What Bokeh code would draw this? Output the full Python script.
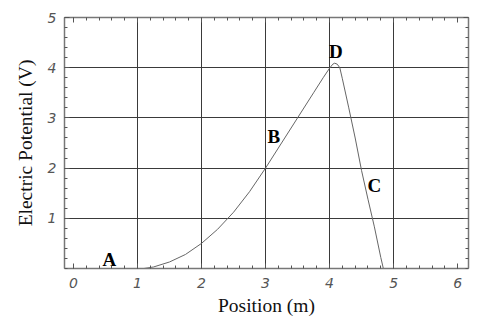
from bokeh.plotting import figure
from bokeh.models import (Range1d, FixedTicker, LinearAxis, CustomJSTickFormatter,
                          ColumnDataSource)
from bokeh.core.properties import value
from bokeh.embed import file_html
from bokeh.resources import INLINE

# ---- data ----
position = [1.0, 1.1, 1.25, 1.5, 1.75, 2.0, 2.25, 2.5, 2.75, 3.0, 3.25, 3.5, 3.75,
            3.9, 4.0, 4.05, 4.08, 4.12, 4.16, 4.2, 4.3, 4.4, 4.5, 4.6, 4.7, 4.8, 4.84]
potential = [0.0, 0.0, 0.03, 0.13, 0.28, 0.5, 0.78, 1.12, 1.53, 2.0, 2.5, 3.0, 3.5,
             3.8, 3.99, 4.07, 4.09, 4.07, 4.0, 3.78, 3.2, 2.6, 1.95, 1.38, 0.83, 0.22, 0.0]

point_labels = ["A", "B", "D", "C"]
label_x = [0.56, 3.13, 4.1, 4.7]
label_y = [0.18, 2.62, 4.32, 1.66]

x_ticks = [0, 1, 2, 3, 4, 5, 6]
y_ticks = [1, 2, 3, 4, 5]
x_grid = [1, 2, 3, 4, 5]
y_grid = [1, 2, 3, 4]
x_minor = [round(-0.0 + 0.2 * i, 2) for i in range(0, 31)]
y_minor = [round(0.2 * i, 2) for i in range(0, 26)]

# ---- figure ----
p = figure(width=487, height=327, output_backend="svg", toolbar_location=None,
           x_range=Range1d(-0.14, 6.17), y_range=Range1d(0, 5),
           min_border_left=64, min_border_right=19, min_border_top=17,
           min_border_bottom=59)
p.background_fill_color = "white"
p.border_fill_color = "white"
p.outline_line_color = None

axis_col = "#777777"

def style_axis(ax, ticks, minor):
    ax.ticker = FixedTicker(ticks=ticks, minor_ticks=minor)
    ax.axis_line_color = axis_col
    ax.axis_line_width = 1.5
    ax.major_tick_in = 5
    ax.major_tick_out = 0
    ax.minor_tick_in = 3
    ax.minor_tick_out = 0
    ax.major_tick_line_color = "#555555"
    ax.minor_tick_line_color = "#555555"
    ax.major_label_text_font = "DejaVu Sans"
    ax.major_label_text_font_style = "italic"
    ax.major_label_text_font_size = "14px"
    ax.major_label_text_color = "#555555"

style_axis(p.xaxis[0], x_ticks, x_minor)
style_axis(p.yaxis[0], y_ticks, y_minor)
p.xaxis.major_label_standoff = 9
p.yaxis.major_label_standoff = 8

p.xaxis.axis_label = "Position (m)"
p.yaxis.axis_label = "Electric Potential (V)"
for ax in (p.xaxis[0], p.yaxis[0]):
    ax.axis_label_text_font = "Liberation Serif"
    ax.axis_label_text_font_style = "normal"
    ax.axis_label_text_font_size = "19.5px"
    ax.axis_label_text_color = "#111111"
p.xaxis.axis_label_standoff = 4
p.yaxis.axis_label_standoff = 9

blank = CustomJSTickFormatter(code="return ''")
top = LinearAxis(formatter=blank)
right = LinearAxis(formatter=blank)
style_axis(top, x_ticks, x_minor)
style_axis(right, y_ticks, y_minor)
for ax in (top, right):
    ax.major_label_standoff = 0
    ax.major_label_text_font_size = "1px"
p.add_layout(top, "above")
p.add_layout(right, "right")

p.xgrid.ticker = FixedTicker(ticks=x_grid)
p.ygrid.ticker = FixedTicker(ticks=y_grid)
for g in (p.xgrid[0], p.ygrid[0]):
    g.grid_line_color = "#3a3a3a"
    g.grid_line_width = 1

src = ColumnDataSource(dict(x=position, y=potential))
p.line("x", "y", source=src, line_color="#666666", line_width=1.0)

lsrc = ColumnDataSource(dict(x=label_x, y=label_y, t=point_labels))
p.text("x", "y", text="t", source=lsrc, text_font=value("Liberation Serif"),
       text_font_style="bold", text_font_size="19px", text_color="black",
       text_align="center", text_baseline="middle")

open("out.html", "w").write(file_html(p, INLINE))
